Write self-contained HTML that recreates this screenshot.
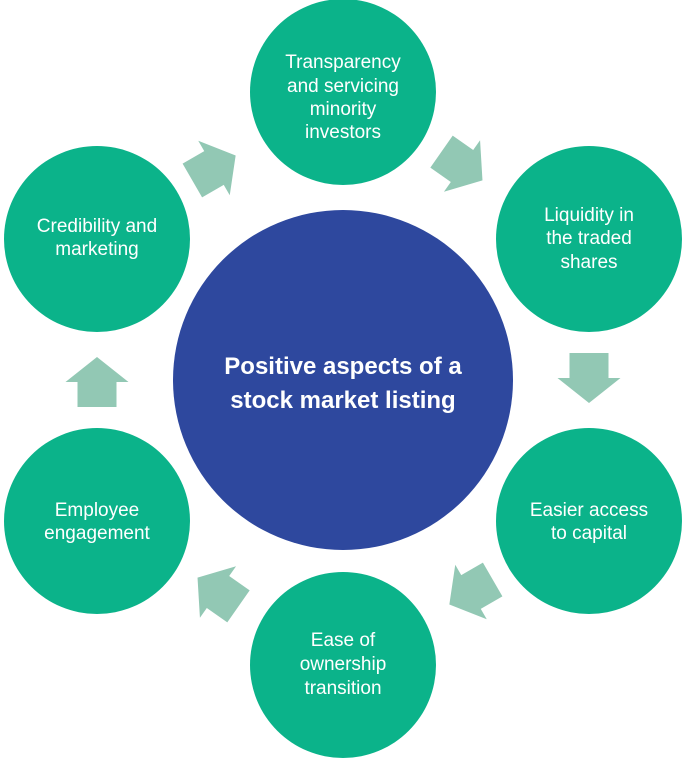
<!DOCTYPE html>
<html><head><meta charset="utf-8"><style>
html,body{margin:0;padding:0;background:#fff;width:685px;height:761px;overflow:hidden}
text{font-family:"Liberation Sans",sans-serif;fill:#fff;text-anchor:middle}
.s{font-size:19px}
.b{font-size:24px;font-weight:bold}
</style></head><body>
<svg width="685" height="761" viewBox="0 0 685 761" xmlns="http://www.w3.org/2000/svg">
<defs>
<polygon id="ar" points="-25,-19.5 0,-19.5 0,-31.5 25,0 0,31.5 0,19.5 -25,19.5" fill="#92c8b4"/>
</defs>
<circle cx="343" cy="380" r="170" fill="#2e489e"/>
<circle cx="343" cy="92" r="93" fill="#0bb38a"/>
<circle cx="589" cy="239" r="93" fill="#0bb38a"/>
<circle cx="589" cy="521" r="93" fill="#0bb38a"/>
<circle cx="343" cy="665" r="93" fill="#0bb38a"/>
<circle cx="97" cy="521" r="93" fill="#0bb38a"/>
<circle cx="97" cy="239" r="93" fill="#0bb38a"/>
<use href="#ar" transform="translate(462,166) rotate(35)"/>
<use href="#ar" transform="translate(589,378) rotate(90)"/>
<use href="#ar" transform="translate(471,592) rotate(150)"/>
<use href="#ar" transform="translate(218,592) rotate(215)"/>
<use href="#ar" transform="translate(97,382) rotate(270)"/>
<use href="#ar" transform="translate(214,168) rotate(330)"/>
<text class="b" x="343" y="374">Positive aspects of a</text>
<text class="b" x="343" y="408">stock market listing</text>
<text class="s" x="343" y="68">Transparency</text>
<text class="s" x="343" y="92">and servicing</text>
<text class="s" x="343" y="115">minority</text>
<text class="s" x="343" y="138">investors</text>
<text class="s" x="589" y="221">Liquidity in</text>
<text class="s" x="589" y="244">the traded</text>
<text class="s" x="589" y="268">shares</text>
<text class="s" x="589" y="516">Easier access</text>
<text class="s" x="589" y="539">to capital</text>
<text class="s" x="343" y="646">Ease of</text>
<text class="s" x="343" y="670">ownership</text>
<text class="s" x="343" y="694">transition</text>
<text class="s" x="97" y="516">Employee</text>
<text class="s" x="97" y="539">engagement</text>
<text class="s" x="97" y="232">Credibility and</text>
<text class="s" x="97" y="255">marketing</text>
</svg>
</body></html>
